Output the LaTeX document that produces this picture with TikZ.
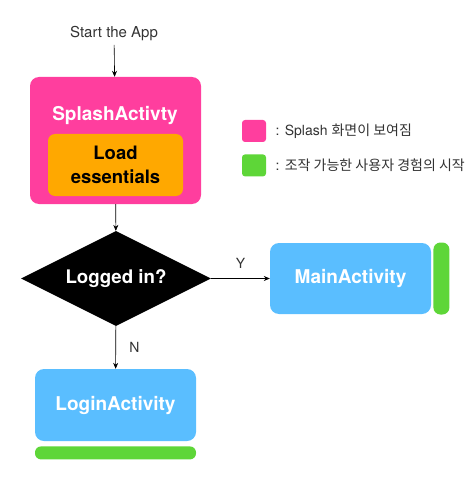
\documentclass[tikz,border=0pt]{standalone}
\usepackage{fontspec}
\setmainfont{TeX Gyre Heros}
\newfontfamily\kor{Noto Sans CJK KR}
\usetikzlibrary{arrows.meta,shapes,positioning}

\definecolor{splashpink}{RGB}{255,62,158}
\definecolor{loadorange}{RGB}{255,168,0}
\definecolor{actblue}{RGB}{90,190,255}
\definecolor{uxgreen}{RGB}{94,214,56}
\definecolor{labelgray}{RGB}{50,50,50}

\begin{document}
\begin{tikzpicture}[
    x=1pt, y=-1pt,
    block/.style={rectangle, rounded corners=9pt, text centered, font=\fontsize{19}{21}\selectfont\bfseries, inner sep=0pt},
    bar/.style={rectangle, rounded corners=7pt, fill=uxgreen, inner sep=0pt},
    legend/.style={rectangle, rounded corners=3pt, minimum width=24pt, minimum height=22pt, inner sep=0pt},
    small/.style={font=\fontsize{14}{16}\selectfont, text=labelgray},
    arrow/.style={-{Stealth[length=6pt,width=5pt]}, semithick}
]
    \useasboundingbox (0,0) rectangle (474,481);

    \node [small, font=\fontsize{15}{17}\selectfont] (start) at (114,34) {Start the App};

    \node [block, fill=splashpink, minimum width=171pt, minimum height=127pt] (splash) at (115.5,140.5) {};
    \node [text=white, font=\fontsize{19}{21}\selectfont\bfseries] (splashtxt) at (115,116) {SplashActivty};
    \node [block, fill=loadorange, minimum width=135pt, minimum height=62pt, align=center,
           rounded corners=7pt, font=\fontsize{18.5}{24}\selectfont\bfseries] (load) at (115.5,165) {Load\\essentials};

    \node [diamond, fill=black, minimum width=190pt, minimum height=95pt, inner sep=0pt] (login) at (116,278.5) {};
    \node [text=white, font=\fontsize{18.7}{21}\selectfont\bfseries] (logintxt) at (login.center) {Logged in?};

    \node [block, fill=actblue, text=white, minimum width=161pt, minimum height=71pt] (main) at (350.5,278.5) {MainActivity};
    \node [bar, minimum width=16pt, minimum height=72pt, right=2pt of main] (mainbar) {};

    \node [block, fill=actblue, text=white, minimum width=161pt, minimum height=72pt] (loginact) at (115.5,405) {LoginActivity};
    \node [bar, minimum width=161pt, minimum height=13pt, rounded corners=6pt, below=5pt of loginact] (loginbar) {};

    \draw [arrow] (start) -- (splash);
    \draw [arrow] (splash) -- (login);
    \draw [arrow] (login) -- node [small, above=6pt] {Y} (main);
    \draw [arrow] (login) -- node [small, right=10pt] {N} (loginact);

    % legend
    \node [legend, fill=splashpink] (pinkkey) at (254,131) {};
    \node [legend, fill=uxgreen, below=12pt of pinkkey] (greenkey) {};
    \node [small, anchor=west, right=6pt of pinkkey] (pinktxt) {: Splash {\kor 화면이 보여짐}};
    \node [small, anchor=west, right=6pt of greenkey] (greentxt) {: {\kor 조작 가능한 사용자 경험의 시작}};

\end{tikzpicture}
\end{document}
